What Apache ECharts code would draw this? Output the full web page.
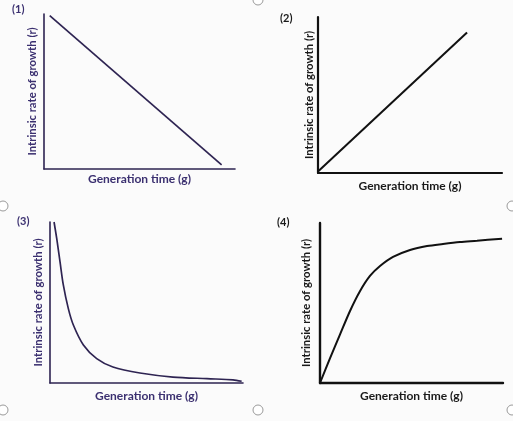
<!DOCTYPE html>
<html>
<head>
<meta charset="utf-8">
<script src="https://cdn.jsdelivr.net/npm/echarts@6/dist/echarts.min.js"></script>
<style>
  html, body { margin: 0; padding: 0; background: #fbfbfb; }
  #chart { width: 513px; height: 421px; }
</style>
</head>
<body>
<div id="chart"></div>
<script>
// panel labels and axis names
var panelTitles = ['(1)', '(2)', '(3)', '(4)'];
var xName = 'Generation time (g)';
var yName = 'Intrinsic rate of growth (r)';

// curves (0-100 scale in each panel)
var curve1 = [[3, 99], [93, 2.6]];
var curve2 = [[0, 1], [81, 90]];
var curve3 = [[2.1, 100], [3.5, 89.6], [5.2, 75.2], [6.9, 60.9], [9.5, 46.2], [12.1, 36.0],
    [17.3, 23.6], [24.2, 15.1], [32.6, 9.9], [46.6, 6.2], [63.7, 3.7], [81.3, 2.7], [94.8, 2.0], [99.3, 1.1]];
var curve4 = [[0, 0], [5.5, 15.6], [10.9, 30.2], [16.4, 45], [21.9, 57.5], [27.3, 66.9], [32.8, 73.1],
    [39.9, 78.8], [49.2, 83.1], [58.5, 85.6], [67.2, 86.9], [76.5, 88.1], [85.8, 88.9], [99.5, 90.2]];

var curves = [curve1, curve2, curve3, curve4];

// layout of each panel
var grids = [
    {left: 44, top: 14, width: 191, height: 155},
    {left: 318, top: 17, width: 184, height: 156},
    {left: 50, top: 222, width: 193, height: 161},
    {left: 320, top: 223, width: 183, height: 160}
];
var inkColors = ['#2e2452', '#111111', '#2e2452', '#111111'];
var textColors = ['#3b3070', '#1a1a1a', '#3b3070', '#1a1a1a'];
var axisWidths = [1.6, 2.2, 1.6, 2.4];
var xGaps = [4, 7, 7, 7];
var yGaps = [6, 3, 6, 8];
var titlePos = [[12, 4], [280, 13], [17, 216], [277, 217]];

var fontFamily = 'Lato, "Open Sans", sans-serif';

var chart = echarts.init(document.getElementById('chart'));

var option = {
    backgroundColor: '#fbfbfb',
    animation: false,
    title: [],
    grid: [],
    xAxis: [],
    yAxis: [],
    series: [],
    graphic: []
};

for (var i = 0; i < 4; i++) {
    option.title.push({
        text: panelTitles[i],
        left: titlePos[i][0],
        top: titlePos[i][1],
        padding: 0,
        textStyle: {fontSize: 11, fontWeight: 'bold', color: textColors[i], fontFamily: fontFamily}
    });
    option.grid.push(grids[i]);
    var axisBase = {
        gridIndex: i,
        type: 'value',
        min: 0,
        max: 100,
        splitLine: {show: false},
        axisTick: {show: false},
        axisLabel: {show: false},
        axisLine: {show: true, onZero: false, lineStyle: {color: inkColors[i], width: axisWidths[i]}},
        nameLocation: 'middle'
    };
    option.xAxis.push(Object.assign({}, axisBase, {
        name: xName,
        nameGap: xGaps[i],
        nameTextStyle: {fontSize: 12, fontWeight: 'bold', color: textColors[i], fontFamily: fontFamily}
    }));
    option.yAxis.push(Object.assign({}, axisBase, {
        name: yName,
        nameGap: yGaps[i],
        nameRotate: 90,
        nameTextStyle: {fontSize: 11.3, fontWeight: 'bold', color: textColors[i], fontFamily: fontFamily}
    }));
    option.series.push({
        type: 'line',
        xAxisIndex: i,
        yAxisIndex: i,
        data: curves[i],
        showSymbol: false,
        smooth: i >= 2 ? 0.3 : false,
        lineStyle: {color: inkColors[i], width: i % 2 ? 2 : 1.7}
    });
}

// the little round handles of the cropped scan
var handles = [[258, 0], [3, 206], [512, 206], [3, 410], [258, 410], [512, 410]];
handles.forEach(function (h) {
    option.graphic.push({
        type: 'circle',
        shape: {cx: h[0], cy: h[1], r: 5},
        style: {fill: '#ffffff', stroke: '#9a9a9a', lineWidth: 1}
    });
});

chart.setOption(option);
</script>
</body>
</html>
